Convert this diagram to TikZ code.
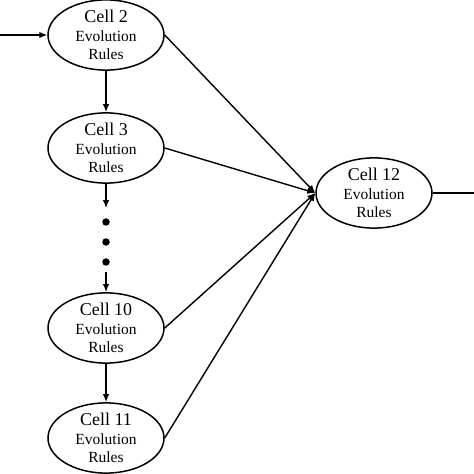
\documentclass[tikz,border=0pt]{standalone}
\usepackage{fontspec}
\setmainfont{Liberation Serif}
\usetikzlibrary{arrows.meta,shapes.geometric}
\tikzset{
  cell/.style={draw, ellipse, line width=1.5pt, minimum width=116pt, minimum height=66pt, inner sep=0pt, align=center, font=\fontsize{15.5}{18.5}\selectfont},
  conn/.style={line width=1.4pt, -{Latex[length=8pt,width=6.5pt]}},
  plain/.style={line width=1.4pt},
  dotnode/.style={circle, fill=black, inner sep=0pt, minimum size=7.5pt},
}
\newcommand{\cellname}[1]{{\fontsize{18}{18.5}\selectfont #1}\\Evolution\\Rules}
\begin{document}
\begin{tikzpicture}[x=1pt,y=1pt]
\useasboundingbox (0,0) rectangle (474,474);
\node[cell] (c2) at (106,439) {\cellname{Cell 2}};
\node[cell] (c3) at (106,326) {\cellname{Cell 3}};
\node[cell] (c10) at (106,146) {\cellname{Cell 10}};
\node[cell] (c11) at (106,36) {\cellname{Cell 11}};
\node[cell] (c12) at (374,281) {\cellname{Cell 12}};
\node[dotnode] (d1) at (106,252) {};
\node[dotnode] (d2) at (106,232) {};
\node[dotnode] (d3) at (106,212) {};
\coordinate (in) at (0,439);
\coordinate (out) at (474,281);
\draw[conn] (in) -- (c2.west);
\draw[plain] (c12.east) -- (out);
\draw[conn] (c2.south) -- (c3.north);
\draw[conn, shorten >=10pt] (c3.south) -- (d1.north);
\draw[conn, shorten <=6pt] (d3.south) -- (c10.north);
\draw[conn] (c10.south) -- (c11.north);
\draw[conn] (c2.east) -- (c12.west);
\draw[conn] (c3.east) -- (c12.west);
\draw[conn] (c10.east) -- (c12.west);
\draw[conn] (c11.east) -- (c12.west);
\end{tikzpicture}
\end{document}
